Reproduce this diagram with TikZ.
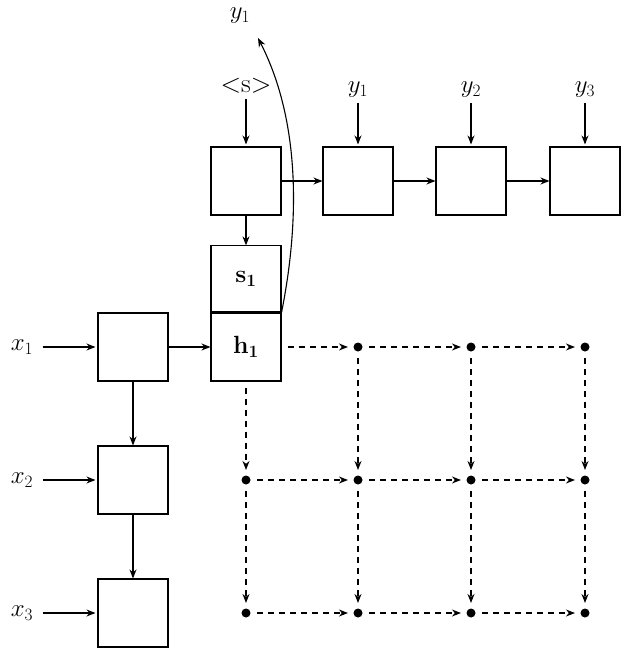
\documentclass[tikz,border=0pt]{standalone}
\usetikzlibrary{arrows.meta}
\begin{document}
\begin{tikzpicture}[x=1pt,y=-1pt,line width=1.1pt,
 box/.style={draw,minimum width=70pt,minimum height=68pt,inner sep=0,font=\fontsize{27}{30}\selectfont},
 dot/.style={circle,fill,inner sep=0,minimum size=9pt},
 lab/.style={font=\fontsize{27}{30}\selectfont,inner sep=1pt},
 arr/.style={-{Stealth[length=9pt,width=7pt]},line width=1.1pt},
 darr/.style={arr,dashed,dash pattern=on 6pt off 5pt,shorten <=6pt,shorten >=5pt}]
\useasboundingbox (0,0) rectangle (625,653);
% left column
\node[box] (a1) at (133,347) {};
\node[box] (a2) at (133,480) {};
\node[box] (a3) at (133,613) {};
\node[lab] (x1) at (22,347) {$x_1$};
\node[lab] (x2) at (22,480) {$x_2$};
\node[lab] (x3) at (22,613) {$x_3$};
\draw[arr,shorten <=8pt,shorten >=2pt] (x1.east) -- (a1);
\draw[arr,shorten <=8pt,shorten >=2pt] (x2.east) -- (a2);
\draw[arr,shorten <=8pt,shorten >=2pt] (x3.east) -- (a3);
\draw[arr] (a1) -- (a2);
\draw[arr] (a2) -- (a3);
% h1, s1
\node[box] (h1) at (246,347) {$\mathbf{h_1}$};
\node[box,minimum height=66pt,anchor=south] (s1) at (h1.north) {$\mathbf{s_1}$};
\draw[arr] (a1) -- (h1);
% top row
\node[box] (t0) at (246,181) {};
\node[box] (t1) at (358,181) {};
\node[box] (t2) at (471,181) {};
\node[box] (t3) at (585,181) {};
\draw[arr] (t0) -- (t1);
\draw[arr] (t1) -- (t2);
\draw[arr] (t2) -- (t3);
\draw[arr] (t0) -- (s1);
\node[lab] (s) at (246,86) {<s>};
\node[lab] (y1) at (358,90) {$y_1$};
\node[lab] (y2) at (471,90) {$y_2$};
\node[lab] (y3) at (585,90) {$y_3$};
\draw[arr,shorten <=4pt,shorten >=2pt] (s.south) -- (t0);
\draw[arr,shorten <=4pt,shorten >=2pt] (y1.south) -- (t1);
\draw[arr,shorten <=4pt,shorten >=2pt] (y2.south) -- (t2);
\draw[arr,shorten <=4pt,shorten >=2pt] (y3.south) -- (t3);
\node[lab] (yo) at (240,16) {$y_1$};
\draw[arr] (s1.south east) .. controls (300,220) and (300,120) .. (258,38);
% grid
\node[dot] (d01) at (358,347) {};
\node[dot] (d02) at (471,347) {};
\node[dot] (d03) at (585,347) {};
\node[dot] (d10) at (246,480) {};
\node[dot] (d11) at (358,480) {};
\node[dot] (d12) at (471,480) {};
\node[dot] (d13) at (585,480) {};
\node[dot] (d20) at (246,613) {};
\node[dot] (d21) at (358,613) {};
\node[dot] (d22) at (471,613) {};
\node[dot] (d23) at (585,613) {};
\draw[darr] (h1) -- (d01);
\draw[darr] (d01) -- (d02);
\draw[darr] (d02) -- (d03);
\draw[darr] (h1) -- (d10);
\draw[darr] (d01) -- (d11);
\draw[darr] (d02) -- (d12);
\draw[darr] (d03) -- (d13);
\draw[darr] (d10) -- (d11);
\draw[darr] (d11) -- (d12);
\draw[darr] (d12) -- (d13);
\draw[darr] (d10) -- (d20);
\draw[darr] (d11) -- (d21);
\draw[darr] (d12) -- (d22);
\draw[darr] (d13) -- (d23);
\draw[darr] (d20) -- (d21);
\draw[darr] (d21) -- (d22);
\draw[darr] (d22) -- (d23);
\end{tikzpicture}
\end{document}
